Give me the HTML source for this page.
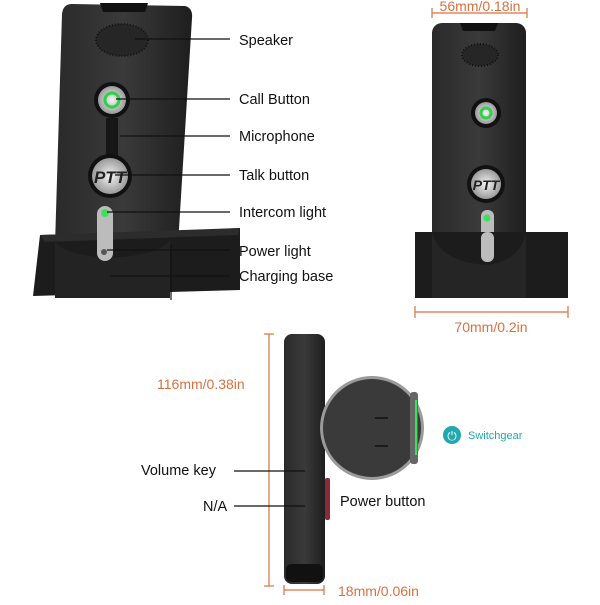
<!DOCTYPE html>
<html><head><style>
body{margin:0;width:600px;height:600px;background:#fff;overflow:hidden;font-family:"Liberation Sans",sans-serif}
</style></head><body>
<svg width="600" height="600" xmlns="http://www.w3.org/2000/svg" font-family="Liberation Sans, sans-serif">
<defs>
<linearGradient id="bd" x1="0" x2="1"><stop offset="0" stop-color="#2a2a2a"/><stop offset="0.5" stop-color="#3a3a3a"/><stop offset="1" stop-color="#1e1e1e"/></linearGradient>
<radialGradient id="btn"><stop offset="0" stop-color="#f4f4f4"/><stop offset="1" stop-color="#9a9a9a"/></radialGradient>
</defs>
<!-- LEFT PHONE -->
<path d="M72 4 L185 6 Q193 8 192 18 L178 245 L55 245 L62 14 Q63 4 72 4Z" fill="url(#bd)"/>
<path d="M100 3 L148 3 L145 12 L103 12Z" fill="#111"/>
<ellipse cx="122" cy="40" rx="26" ry="16" fill="#262626" stroke="#111" stroke-dasharray="1 2" stroke-width="2"/>
<path d="M40 235 L160 232 L240 228 L240 290 L33 296Z" fill="#1c1c1c"/>
<path d="M40 235 L240 228 L238 235 L45 242Z" fill="#2c2c2c"/>
<path d="M55 240 Q60 255 110 258 Q160 255 170 240 L170 298 L55 298Z" fill="#232323"/>
<circle cx="112" cy="100" r="18" fill="#111"/><circle cx="112" cy="100" r="14" fill="url(#btn)"/>
<circle cx="112" cy="100" r="7" fill="none" stroke="#2fd04a" stroke-width="3"/>
<rect x="106" y="118" width="12" height="40" fill="#161616"/>
<circle cx="110" cy="176" r="22" fill="#111"/><circle cx="110" cy="176" r="18" fill="url(#btn)"/>
<text x="110" y="183" font-size="17" font-weight="bold" font-style="italic" text-anchor="middle" fill="#222">PTT</text>
<rect x="97" y="206" width="16" height="55" rx="8" fill="#bcbcbc"/>
<circle cx="105" cy="213" r="4" fill="#3ce05a"/>
<circle cx="104" cy="252" r="3" fill="#555"/>
<g stroke="#111" stroke-width="1.2">
<line x1="135" y1="39" x2="230" y2="39"/><line x1="116" y1="99" x2="230" y2="99"/>
<line x1="120" y1="136" x2="230" y2="136"/><line x1="115" y1="175" x2="230" y2="175"/>
<line x1="107" y1="212" x2="230" y2="212"/><line x1="107" y1="250" x2="230" y2="250"/>
<line x1="110" y1="276" x2="230" y2="276"/><line x1="171" y1="245" x2="171" y2="300"/>
</g>
<g font-size="14.5" fill="#111">
<text x="239" y="45">Speaker</text><text x="239" y="104">Call Button</text>
<text x="239" y="141">Microphone</text><text x="239" y="180">Talk button</text>
<text x="239" y="217">Intercom light</text><text x="239" y="256">Power light</text>
<text x="239" y="281">Charging base</text>
</g>
<!-- RIGHT PHONE -->
<rect x="432" y="23" width="94" height="240" rx="10" fill="url(#bd)"/>
<path d="M460 23 L498 23 L495 31 L463 31Z" fill="#111"/>
<ellipse cx="480" cy="55" rx="18" ry="11" fill="#262626" stroke="#111" stroke-dasharray="1 2" stroke-width="2"/>
<circle cx="486" cy="113" r="15" fill="#111"/><circle cx="486" cy="113" r="11" fill="url(#btn)"/>
<circle cx="486" cy="113" r="5" fill="none" stroke="#2fd04a" stroke-width="3"/>
<circle cx="486" cy="184" r="19" fill="#111"/><circle cx="486" cy="184" r="15" fill="url(#btn)"/>
<text x="486" y="190" font-size="14" font-weight="bold" font-style="italic" text-anchor="middle" fill="#222">PTT</text>
<rect x="481" y="210" width="13" height="52" rx="6" fill="#bcbcbc"/>
<circle cx="487" cy="218" r="3.5" fill="#3ce05a"/>
<path d="M415 232 L568 232 L568 298 L415 298Z" fill="#1c1c1c"/>
<path d="M432 232 Q440 262 486 265 Q520 262 526 232 L526 298 L432 298Z" fill="#252525"/>
<rect x="481" y="232" width="13" height="30" rx="6" fill="#bcbcbc"/>
<g stroke="#d9713f" stroke-width="1.2" fill="none">
<line x1="432" y1="13" x2="527" y2="13"/><line x1="432" y1="8" x2="432" y2="18"/><line x1="527" y1="8" x2="527" y2="18"/>
<line x1="415" y1="312" x2="568" y2="312"/><line x1="415" y1="306" x2="415" y2="318"/><line x1="568" y1="306" x2="568" y2="318"/>
<line x1="269" y1="334" x2="269" y2="586"/><line x1="264" y1="334" x2="274" y2="334"/><line x1="264" y1="586" x2="274" y2="586"/>
<line x1="284" y1="590" x2="324" y2="590"/><line x1="284" y1="585" x2="284" y2="595"/><line x1="324" y1="585" x2="324" y2="595"/>
</g>
<g font-size="14" fill="#d9713f">
<text x="480" y="11" text-anchor="middle">56mm/0.18in</text>
<text x="491" y="332" text-anchor="middle">70mm/0.2in</text>
<text x="157" y="389">116mm/0.38in</text>
<text x="338" y="596">18mm/0.06in</text>
</g>
<!-- SIDE PHONE -->
<rect x="284" y="334" width="41" height="250" rx="8" fill="url(#bd)"/>
<rect x="286" y="564" width="37" height="18" rx="5" fill="#111"/>
<rect x="325" y="405" width="5" height="38" rx="2" fill="#555"/>
<rect x="325" y="478" width="5" height="42" rx="2" fill="#8a2a3a"/>
<path d="M328 430 L345 415 L345 445Z" fill="#555"/>
<circle cx="372" cy="428" r="52" fill="#9a9a9a"/>
<circle cx="372" cy="428" r="49" fill="#3a3a3a"/>
<rect x="410" y="392" width="8" height="72" rx="3" fill="#666"/>
<line x1="416" y1="400" x2="416" y2="455" stroke="#3ce05a" stroke-width="2"/>
<g stroke="#111" stroke-width="1.5"><line x1="375" y1="418" x2="388" y2="418"/><line x1="375" y1="446" x2="388" y2="446"/></g>
<circle cx="452" cy="435" r="9" fill="#1fa8ad"/>
<text x="452" y="440" font-size="12" text-anchor="middle" fill="#fff">⏻</text>
<text x="468" y="439" font-size="11" fill="#1fa8ad">Switchgear</text>
<g stroke="#111" stroke-width="1.2"><line x1="234" y1="471" x2="305" y2="471"/><line x1="234" y1="506" x2="305" y2="506"/></g>
<g font-size="14.5" fill="#111">
<text x="141" y="475">Volume key</text><text x="203" y="511">N/A</text>
<text x="340" y="506">Power button</text>
</g>
</svg>
</body></html>
